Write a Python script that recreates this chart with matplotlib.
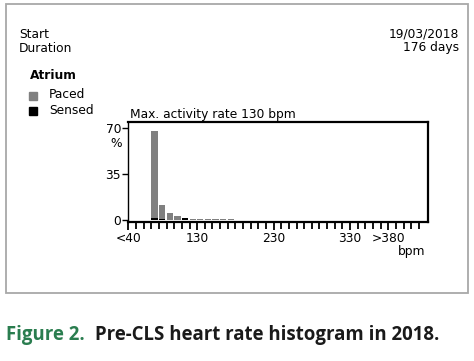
import matplotlib
matplotlib.use("Agg")
import matplotlib.pyplot as plt
from matplotlib.patches import Rectangle

# histogram bins (bpm lower edge), % of time
bins = [70, 80, 90, 100, 110, 120, 130, 140, 150, 160, 170]
paced = [66.5, 10.0, 5.1, 2.5, 0.4, 0.9, 0.9, 0.9, 0.3, 0.3, 0.3]
sensed = [1.5, 1.4, 0.5, 0.5, 1.6, 0.0, 0.0, 0.0, 0.5, 0.5, 0.5]
xtick_pos = [40, 130, 230, 330, 380]
xtick_lab = ["<40", "130", "230", "330", ">380"]
ytick_pos = [0, 35, 70]

W, H = 474, 361
fig = plt.figure(figsize=(W / 100, H / 100), dpi=100)


def fx(x):
    return x / W


def fy(y):
    return 1 - y / H


# outer light frame
fig.patches.append(Rectangle((fx(6), fy(293)), fx(462), 289 / H, transform=fig.transFigure,
                             fill=False, edgecolor="#a8a8a8", linewidth=1.3))

fs = 8.8
fig.text(fx(19), fy(34), "Start", fontsize=fs, va="center")
fig.text(fx(19), fy(48), "Duration", fontsize=fs, va="center")
fig.text(fx(459), fy(34), "19/03/2018", fontsize=fs, va="center", ha="right")
fig.text(fx(459), fy(48), "176 days", fontsize=fs, va="center", ha="right")
fig.text(fx(30), fy(75.5), "Atrium", fontsize=fs, va="center", fontweight="bold")
fig.patches.append(Rectangle((fx(29), fy(99.5)), fx(8), 8 / H, transform=fig.transFigure,
                             color="#808080"))
fig.patches.append(Rectangle((fx(29), fy(114.5)), fx(8), 8 / H, transform=fig.transFigure,
                             color="#000000"))
fig.text(fx(49), fy(95), "Paced", fontsize=fs, va="center")
fig.text(fx(49), fy(110), "Sensed", fontsize=fs, va="center")

ax = fig.add_axes([fx(128), fy(222), fx(300), 100 / H])
ax.bar(bins, sensed, width=8.2, align="edge", color="#000000", bottom=0)
ax.bar(bins, paced, width=8.2, align="edge", color="#808080", bottom=sensed)
ax.set_xlim(39.5, 432)
ax.set_ylim(-1.2, 74.8)

ax.set_yticks(ytick_pos)
ax.set_yticklabels([str(v) for v in ytick_pos], fontsize=fs)
ax.tick_params(axis="y", length=4, width=1, pad=1)
ax.set_xticks(range(40, 421, 10), minor=True)
ax.set_xticks(xtick_pos)
ax.set_xticklabels(xtick_lab, fontsize=fs)
ax.tick_params(axis="x", which="both", length=5, width=1.3, direction="out", pad=1.5)
ax.tick_params(axis="x", which="major", length=6)

ax.spines["left"].set_linewidth(1.0)
for s in ["top", "right", "bottom"]:
    ax.spines[s].set_linewidth(1.6)

fig.text(fx(130), fy(114.5), "Max. activity rate 130 bpm", fontsize=fs, va="center")
fig.text(fx(116), fy(143.5), "%", fontsize=fs, va="center", ha="center")
fig.text(fx(425), fy(252), "bpm", fontsize=fs, va="center", ha="right")

cap = 13.4
fig.text(fx(6), fy(335), "Figure 2.", fontsize=cap, fontweight="bold", color="#2a7d4f",
         va="center", family="Open Sans")
fig.text(fx(95), fy(335), "Pre-CLS heart rate histogram in 2018.", fontsize=cap,
         fontweight="bold", color="#1a1a1a", va="center", family="Open Sans")

fig.savefig("out.png", dpi=100)
